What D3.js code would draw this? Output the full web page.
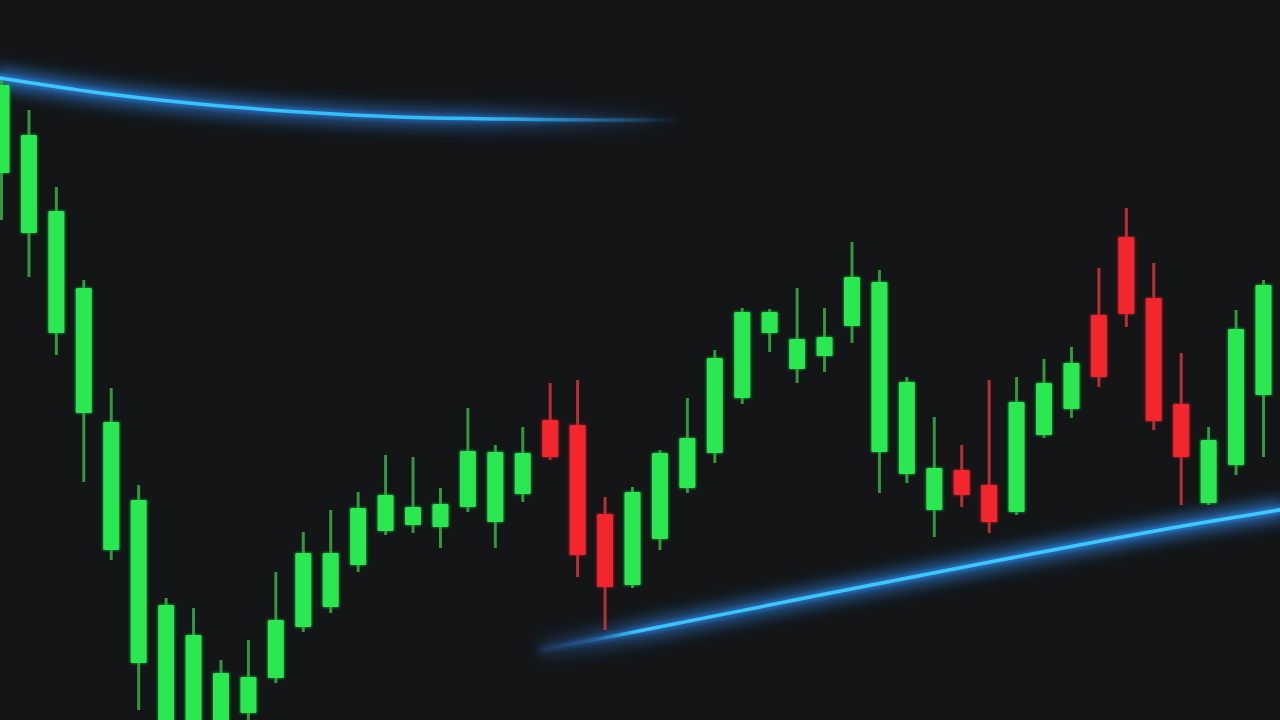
<!DOCTYPE html>
<html>
<head>
<meta charset="utf-8">
<script src="https://cdn.jsdelivr.net/npm/d3@7"></script>
<style>
  html, body { margin: 0; padding: 0; background: #131517; overflow: hidden; }
  svg { display: block; }
</style>
</head>
<body>
<svg id="chart" width="1280" height="720"></svg>
<script>
// ---- Data (price units) ----
const candleIndex = d3.range(47);
const opens  = [547,487,387,307,170,57,-20,-30,-15,7,42,93,113,155,189,195,193,213,198,226,300,295,206,135,181,232,267,322,387,351,364,394,268,246,210,250,235,208,285,311,405,483,422,316,217,255,325];
const closes = [635,585,509,432,298,220,115,85,47,43,100,167,167,212,225,213,216,269,268,267,263,165,133,228,267,282,362,408,408,381,383,443,438,338,252,225,198,318,337,357,343,406,299,263,280,391,435];
const highs  = [640,610,533,440,332,235,122,112,60,80,148,188,210,228,265,263,232,312,275,293,337,340,223,233,270,322,370,412,411,432,412,478,450,343,303,275,340,343,361,373,452,512,457,367,293,410,440];
const lows   = [500,443,365,238,160,10,-40,-50,-30,-2,37,88,107,148,185,187,172,208,172,218,260,143,90,132,170,227,257,316,368,337,348,377,227,237,183,213,187,205,282,302,333,393,290,215,215,245,263];

// glow trend lines (index, price)
const topLineIdx   = [-0.3, 3.6, 7.2, 10.9, 14.5, 18.2, 21.8, 24.8];
const topLinePrice = [643, 627, 616, 608, 603, 601, 600, 600];
const botLineIdx   = [19.6, 22.5, 29.1, 36.4, 43.7, 46.8];
const botLinePrice = [70, 85, 121, 160, 197, 211];

const W = 1280, H = 720;
const svg = d3.select("#chart");

const x = d3.scaleLinear().domain([0, 46]).range([1.5, 1263.5]);
const y = d3.scaleLinear().domain([0, 720]).range([H, 0]);

const candles = candleIndex.map(i => ({
  i, open: opens[i], close: closes[i], high: highs[i], low: lows[i],
  up: closes[i] >= opens[i]
}));

const defs = svg.append("defs");
const blur = defs.append("filter").attr("id", "glow")
  .attr("x", "-20%").attr("y", "-200%").attr("width", "140%").attr("height", "500%");
blur.append("feGaussianBlur").attr("stdDeviation", 8);
const blurS = defs.append("filter").attr("id", "glowS")
  .attr("x", "-20%").attr("y", "-200%").attr("width", "140%").attr("height", "500%");
blurS.append("feGaussianBlur").attr("stdDeviation", 2.2);
const candleGlow = defs.append("filter").attr("id", "cglow")
  .attr("x", "-50%").attr("y", "-10%").attr("width", "200%").attr("height", "120%");
candleGlow.append("feGaussianBlur").attr("stdDeviation", 1.2);

// background
svg.append("rect").attr("width", W).attr("height", H).attr("fill", "#131517");

// gradients for fading line ends
function fadeGrad(id, x0, x1, stops) {
  const g = defs.append("linearGradient").attr("id", id)
    .attr("gradientUnits", "userSpaceOnUse")
    .attr("x1", x0).attr("x2", x1).attr("y1", 0).attr("y2", 0);
  stops.forEach(s => g.append("stop").attr("offset", s[0]).attr("stop-color", s[1]).attr("stop-opacity", s[2]));
}
fadeGrad("topCore", x(topLineIdx[0]), x(topLineIdx[topLineIdx.length-1]),
  [[0, "#3ccaff", 1], [0.72, "#2fbaf5", 1], [0.88, "#2aa0e0", 0.45], [1, "#2a90d0", 0]]);
fadeGrad("topHalo", x(topLineIdx[0]), x(topLineIdx[topLineIdx.length-1]),
  [[0, "#2a7fd8", 0.8], [0.7, "#2a70c8", 0.6], [1, "#2a60b0", 0]]);
fadeGrad("botCore", x(botLineIdx[0]), x(botLineIdx[botLineIdx.length-1]),
  [[0, "#2a90d0", 0], [0.07, "#2a9ee0", 0.2], [0.13, "#3ccaff", 0.95], [1, "#3ccaff", 1]]);
fadeGrad("botHalo", x(botLineIdx[0]), x(botLineIdx[botLineIdx.length-1]),
  [[0, "#2a60b0", 0.25], [0.15, "#2a7fd8", 0.65], [1, "#2a7fd8", 0.8]]);

const line = d3.line().x(d => x(d[0])).y(d => y(d[1])).curve(d3.curveMonotoneX);
const topPts = topLineIdx.map((v, k) => [v, topLinePrice[k]]);
const botPts = botLineIdx.map((v, k) => [v, botLinePrice[k]]);

function glowLine(pts, halo, core) {
  const g = svg.append("g");
  g.append("path").attr("d", line(pts)).attr("fill", "none")
    .attr("stroke", `url(#${halo})`).attr("stroke-width", 18).attr("filter", "url(#glow)");
  g.append("path").attr("d", line(pts)).attr("fill", "none")
    .attr("stroke", `url(#${halo})`).attr("stroke-width", 7).attr("filter", "url(#glowS)");
  g.append("path").attr("d", line(pts)).attr("fill", "none")
    .attr("stroke", `url(#${core})`).attr("stroke-width", 3.5).attr("stroke-linecap", "round");
}
glowLine(topPts, "topHalo", "topCore");
glowLine(botPts, "botHalo", "botCore");

// candles
const bodyW = 16;
const gC = svg.append("g");
const cg = gC.selectAll("g.c").data(candles).join("g").attr("class", "c");

cg.append("line")
  .attr("x1", d => x(d.i)).attr("x2", d => x(d.i))
  .attr("y1", d => y(d.high)).attr("y2", d => y(d.low))
  .attr("stroke", d => d.up ? "#37b045" : "#d8323a")
  .attr("stroke-width", 3).attr("stroke-opacity", 0.85);

cg.append("rect")
  .attr("x", d => x(d.i) - bodyW / 2 - 1)
  .attr("width", bodyW + 2)
  .attr("y", d => y(Math.max(d.open, d.close)) - 1)
  .attr("height", d => Math.abs(y(d.open) - y(d.close)) + 2)
  .attr("rx", 2)
  .attr("fill", d => d.up ? "#1fa83a" : "#b5222a")
  .attr("opacity", 0.6)
  .attr("filter", "url(#cglow)");

cg.append("rect")
  .attr("x", d => x(d.i) - bodyW / 2)
  .attr("width", bodyW)
  .attr("y", d => y(Math.max(d.open, d.close)))
  .attr("height", d => Math.max(1, Math.abs(y(d.open) - y(d.close))))
  .attr("rx", 1.5)
  .attr("fill", d => d.up ? "#2ae84f" : "#f3262e");
</script>
</body>
</html>
